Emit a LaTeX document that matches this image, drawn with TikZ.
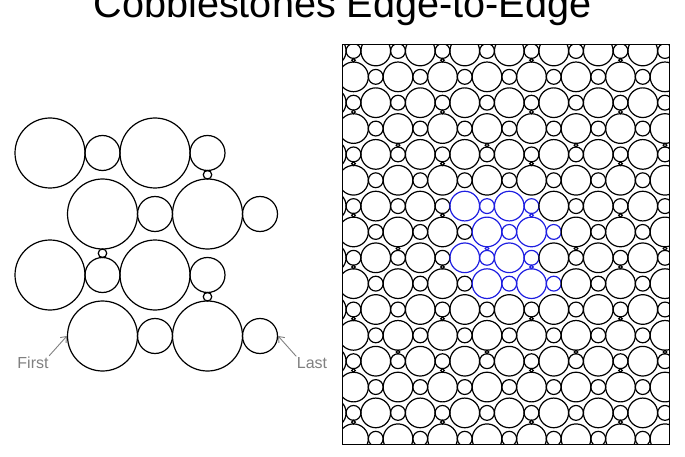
\documentclass[tikz,border=0pt]{standalone}
\usepackage{fontspec}
\setmainfont{Liberation Sans}
\usepackage{tikz}
\usetikzlibrary{arrows.meta}

\definecolor{labelgray}{RGB}{128,128,128}
\definecolor{tileblue}{RGB}{30,30,225}

\tikzset{
  cobbletile/.pic={
    \foreach \r in {0,...,3} {
      \pgfmathsetmacro{\sh}{mod(\r,2)*22.25}
      \foreach \c in {0,1} {
        \draw (\sh+44.5*\c, 25.85*\r) circle[radius=14.83pt];
        \draw (\sh+22.25+44.5*\c, 25.85*\r) circle[radius=7.42pt];
      }
    }
    \draw (66.75, 9.22) circle[radius=1.8pt];
    \draw (22.25, 42.48) circle[radius=1.8pt];
    \draw (66.75, 60.92) circle[radius=1.8pt];
  }
}

\begin{document}
\begin{tikzpicture}[x=1pt, y=-1pt, line width=1.2pt,
    bigstone/.style = {circle, draw, minimum size=70pt, inner sep=0pt},
    smallstone/.style = {circle, draw, minimum size=35pt, inner sep=0pt},
    tinystone/.style = {circle, draw, minimum size=8.5pt, inner sep=0pt},
    tag/.style = {text=labelgray, font=\fontsize{16}{16}\selectfont, inner sep=0pt},
    pointer/.style = {draw=labelgray, line width=0.9pt, -{Straight Barb[length=5pt, width=8pt]}}]
  \useasboundingbox (0,0) rectangle (685,457);

  \node[font=\fontsize{39.6}{40}\selectfont, anchor=base, inner sep=0pt] (title) at (342.5,18) {Cobblestones Edge-to-Edge};

  % single tile
  \foreach \row in {1,...,4} {
    \pgfmathsetmacro{\ypos}{153+61*(\row-1)}
    \pgfmathsetmacro{\xoff}{mod(\row+1,2)*52.5}
    \foreach \col in {1,2} {
      \node[bigstone] (b\row\col) at (-55+\xoff+105*\col, \ypos) {};
      \node[smallstone] (s\row\col) at (-2.5+\xoff+105*\col, \ypos) {};
    }
  }
  \node[tinystone] (t12) at (207.5,174.75) {};
  \node[tinystone] (t23) at (102.5,253.25) {};
  \node[tinystone] (t34) at (207.5,296.75) {};

  \node[tag, anchor=base] (first) at (33,368) {First};
  \node[tag, anchor=base] (last) at (312,368) {Last};
  \draw[pointer] (first.north east) -- (b41.west);
  \draw[pointer] (last.north west) -- (s42.east);

  % tiles edge to edge
  \begin{scope}
    \clip (342.5,44.3) rectangle (669.3,444.3);
    \foreach \i in {-2,...,2} {
      \foreach \j in {-2,...,2} {
        \def\stonecolor{black}
        \ifnum\i=0 \ifnum\j=0 \def\stonecolor{tileblue}\fi\fi
        \pic[color=\stonecolor] at (464.75+89*\i, 206.1+103.4*\j) {cobbletile};
      }
    }
  \end{scope}
  \draw (342.5,44.3) rectangle (669.3,444.3);
\end{tikzpicture}
\end{document}
